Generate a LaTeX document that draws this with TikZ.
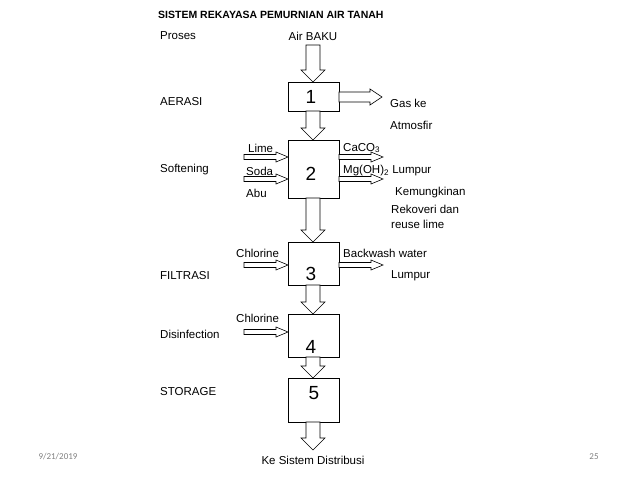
\documentclass[tikz,border=0pt]{standalone}
\usepackage{fontspec}
\setmainfont{Liberation Sans}
\newfontfamily\datefont{Carlito}
\usetikzlibrary{calc}
\tikzset{
 box/.style={draw,line width=0.8pt,inner sep=0pt,anchor=north west},
 lbl/.style={anchor=west,inner sep=0pt,font=\fontsize{11.5}{13}\selectfont},
 num/.style={inner sep=0pt,font=\fontsize{19}{22}\selectfont},
 foot/.style={inner sep=0pt,text=gray,font=\datefont\fontsize{9}{10}\selectfont},
 hollow/.style={draw,fill=white,line width=0.6pt}
}
\newcommand\varrow[2]{%
 \path[hollow] let \p1=(#1), \p2=(#2) in (\x1-7,\y1) -- (\x1+7,\y1) -- (\x1+7,\y2+12) -- (\x1+12,\y2+12) -- (\x1,\y2) -- (\x1-12,\y2+12) -- (\x1-7,\y2+12) -- cycle;}
\newcommand\harrow[4]{% from, to, shaft half, head half
 \path[hollow] let \p1=(#1), \p2=(#2) in (\x1,\y1+#3) -- (\x2-12,\y1+#3) -- (\x2-12,\y1+#4) -- (\x2,\y1) -- (\x2-12,\y1-#4) -- (\x2-12,\y1-#3) -- (\x1,\y1-#3) -- cycle;}
\begin{document}
\begin{tikzpicture}[x=1pt,y=-1pt]
\useasboundingbox (0,0) rectangle (638,478);
\node[lbl,font=\bfseries\fontsize{10.5}{12}\selectfont] (title) at (158,15) {SISTEM REKAYASA PEMURNIAN AIR TANAH};
\node[lbl] (proses) at (160,36) {Proses};
\node[lbl,anchor=center] (air) at (313,36) {Air BAKU};
\node[box,minimum width=51pt,minimum height=29pt] (b1) at (288,82) {};
\node[box,minimum width=51pt,minimum height=58pt] (b2) at (288,140) {};
\node[box,minimum width=51pt,minimum height=43pt] (b3) at (288,242) {};
\node[box,minimum width=51pt,minimum height=43pt] (b4) at (288,314) {};
\node[box,minimum width=51pt,minimum height=44pt] (b5) at (288,378) {};
\node[num] (n1) at (311,97) {1};
\node[num] (n2) at (311,174) {2};
\node[num] (n3) at (311,274) {3};
\node[num] (n4) at (311,347) {4};
\node[num] (n5) at (314,393) {5};
\coordinate (top) at (313,45);
\coordinate (bot) at (313,450);
\coordinate (t1) at (313,82);
\coordinate (s1) at (313,111);
\coordinate (t2) at (313,140);
\coordinate (s2) at (313,198);
\coordinate (t3) at (313,242);
\coordinate (s3) at (313,285);
\coordinate (t4) at (313,314);
\coordinate (s4) at (313,357);
\coordinate (t5) at (313,378);
\coordinate (s5) at (313,422);
\varrow{top}{t1}\varrow{s1}{t2}\varrow{s2}{t3}\varrow{s3}{t4}\varrow{s4}{t5}\varrow{s5}{bot}
\coordinate (g0) at (339,97); \coordinate (g1) at (382,97);
\harrow{g0}{g1}{5}{8}
\coordinate (l0) at (244,157); \coordinate (l1) at (288,157);
\coordinate (d0) at (244,179); \coordinate (d1) at (288,179);
\coordinate (c0) at (339,157); \coordinate (c1) at (383,157);
\coordinate (m0) at (339,179); \coordinate (m1) at (383,179);
\coordinate (h0) at (244,265); \coordinate (h1) at (288,265);
\coordinate (w0) at (339,265); \coordinate (w1) at (383,265);
\coordinate (k0) at (244,332); \coordinate (k1) at (288,332);
\harrow{l0}{l1}{2.5}{5}\harrow{d0}{d1}{2.5}{5}\harrow{c0}{c1}{2.5}{5}\harrow{m0}{m1}{2.5}{5}
\harrow{h0}{h1}{2.5}{5}\harrow{w0}{w1}{2.5}{5}\harrow{k0}{k1}{2.5}{5}
\node[lbl] (aer) at (160,102) {AERASI};
\node[lbl] (gas) at (390,103) {Gas ke};
\node[lbl] (atm) at (390,125) {Atmosfir};
\node[lbl] (lime) at (248,148) {Lime};
\node[lbl] (caco) at (343,148) {CaCO\textsubscript{3}};
\node[lbl] (soft) at (160,170) {Softening};
\node[lbl] (soda) at (246,171) {Soda};
\node[lbl] (mg) at (343,171) {Mg(OH)\textsubscript{2} Lumpur};
\node[lbl] (abu) at (246,193) {Abu};
\node[lbl] (kem) at (395,193) {Kemungkinan};
\node[lbl] (rek) at (391,209) {Rekoveri dan};
\node[lbl] (reu) at (391,224) {reuse lime};
\node[lbl] (chl1) at (236,253) {Chlorine};
\node[lbl] (back) at (343,253) {Backwash water};
\node[lbl] (fil) at (160,276) {FILTRASI};
\node[lbl] (lum) at (391,276) {Lumpur};
\node[lbl] (chl2) at (236,318) {Chlorine};
\node[lbl] (dis) at (160,334) {Disinfection};
\node[lbl] (sto) at (160,392) {STORAGE};
\node[lbl,anchor=center] (ke) at (313,460) {Ke Sistem Distribusi};
\node[foot] (date) at (58,457) {9/21/2019};
\node[foot] (pg) at (594,457) {25};
\end{tikzpicture}
\end{document}
